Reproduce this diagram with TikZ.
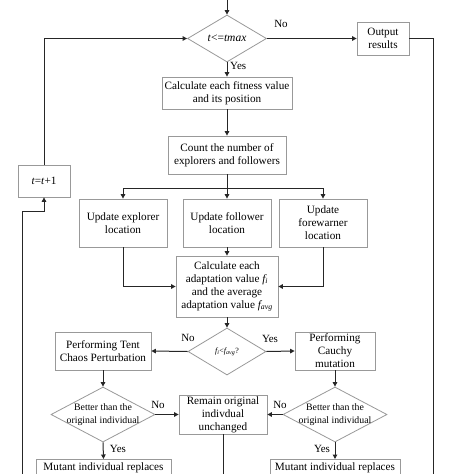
\documentclass[tikz,border=0pt]{standalone}
\usepackage{fontspec}
\setmainfont{Liberation Serif}
\usetikzlibrary{arrows.meta,shapes.geometric}
\begin{document}
\begin{tikzpicture}[x=1pt,y=-1pt,
  box/.style={draw=black!40,line width=0.8pt,fill=white,align=center,inner sep=1pt,font=\fontsize{11.2}{13}\selectfont},
  dia/.style={draw=black!40,line width=0.8pt,shape=diamond,inner sep=0pt},
  con/.style={draw=black!85,line width=1pt},
  arr/.style={con,-{Triangle[length=4.5pt,width=4.5pt]}},
  lbl/.style={font=\fontsize{11}{13}\selectfont,inner sep=0pt},
  small/.style={font=\fontsize{9.8}{13}\selectfont,align=center,inner sep=0pt}]
\useasboundingbox (0,0) rectangle (474,474);
\clip (0,0) rectangle (474,474);
\fill[white] (0,0) rectangle (474,474);

% nodes
\node[dia,minimum width=79pt,minimum height=47pt,
  label={[lbl,font=\fontsize{11.5}{13}\selectfont]center:\textit{t}<=\textit{tmax}}] (d1) at (227,38.5) {};
\node[box,minimum width=52pt,minimum height=33pt] (out) at (383,38.5) {Output\\results};
\node[box,minimum width=130pt,minimum height=32pt] (fit) at (227,93) {Calculate each fitness value\\and its position};
\node[box,minimum width=118pt,minimum height=38pt] (count) at (227,155) {Count the number of\\explorers and followers};
\node[box,minimum width=52pt,minimum height=32pt] (tinc) at (44,181) {\textit{t}=\textit{t}+1};
\node[box,minimum width=88pt,minimum height=48pt] (exp) at (123,223) {Update explorer\\location};
\node[box,minimum width=88pt,minimum height=48pt] (fol) at (227,223) {Update follower\\location};
\node[box,minimum width=88pt,minimum height=48pt] (fore) at (323,223) {Update\\forewarner\\location};
\node[box,minimum width=102pt,minimum height=61pt] (adapt) at (227,286.5) {Calculate each\\adaptation value \textit{f\textsubscript{i}}\\and the average\\adaptation value \textit{f\textsubscript{avg}}};
\node[dia,minimum width=78pt,minimum height=47pt,
  label={[small,font=\fontsize{8}{10}\selectfont]center:\textit{f\textsubscript{i}}<\textit{f\textsubscript{avg}}?}] (d2) at (227,351.5) {};
\node[box,minimum width=96pt,minimum height=38pt] (tent) at (103,351) {Performing Tent\\Chaos Perturbation};
\node[box,minimum width=80pt,minimum height=38pt] (cauchy) at (335,351) {Performing\\Cauchy\\mutation};
\node[dia,minimum width=104pt,minimum height=55pt,
  label={[small]center:Better than the\\original individual}] (d3) at (103,414.5) {};
\node[dia,minimum width=104pt,minimum height=55pt,
  label={[small]center:Better than the\\original individual}] (d4) at (335,414.5) {};
\node[box,minimum width=88pt,minimum height=39pt] (remain) at (223,414.5) {Remain original\\indivdual\\unchanged};
\node[box,anchor=north,minimum width=135pt,text depth=26pt,inner ysep=3pt] (mut1) at (103.5,459) {Mutant individual replaces};
\node[box,anchor=north,minimum width=130pt,text depth=26pt,inner ysep=3pt] (mut2) at (335,459) {Mutant individual replaces};

\coordinate (top) at (227,0);
\coordinate (rbot) at (433,480);
\coordinate (lbot) at (22,480);
\coordinate (lturn) at (22,211);
\coordinate (rturn) at (433,38.5);
\coordinate (mbot) at (223,480);

% connectors
\draw[arr] (top) -- (d1.north);
\draw[arr] (d1.east) -- (out.west);
\node[lbl] (no1) at (281,24) {No};
\draw[arr] (d1.south) -- (fit.north);
\node[lbl,anchor=west] (yes1) at (230,66) {Yes};
\draw[con] (out.east) -- (rturn) -- (rbot);
\draw[arr] (fit.south) -- (count.north);
\draw[arr] (count.south) -- (fol.north);
\draw[arr] (count.south) -- ++(0,14) -| (exp.north);
\draw[arr] (count.south) -- ++(0,14) -| (fore.north);
\draw[arr] (exp.south) |- (adapt.west);
\draw[arr] (fore.south) |- (adapt.east);
\draw[arr] (fol.south) -- (adapt.north);
\draw[arr] (adapt.south) -- (d2.north);
\draw[arr] (d2.west) -- (tent.east);
\node[lbl] (no2) at (188,338) {No};
\draw[arr] (d2.east) -- (cauchy.west);
\node[lbl] (yes2) at (270,339) {Yes};
\draw[arr] (tent.south) -- (d3.north);
\draw[arr] (cauchy.south) -- (d4.north);
\draw[arr] (d3.east) -- (remain.west);
\node[lbl] (no3) at (158,405) {No};
\draw[arr] (d4.west) -- (remain.east);
\node[lbl] (no4) at (280,405) {No};
\draw[arr] (d3.south) -- (mut1.north);
\node[lbl] (yes3) at (118,449) {Yes};
\draw[arr] (d4.south) -- (mut2.north);
\node[lbl] (yes4) at (322,449) {Yes};
\draw[con] (remain.south) -- (mbot);
\draw[arr] (lbot) -- (lturn) -| (tinc.south);
\draw[arr] (tinc.north) |- (d1.west);
\end{tikzpicture}
\end{document}
